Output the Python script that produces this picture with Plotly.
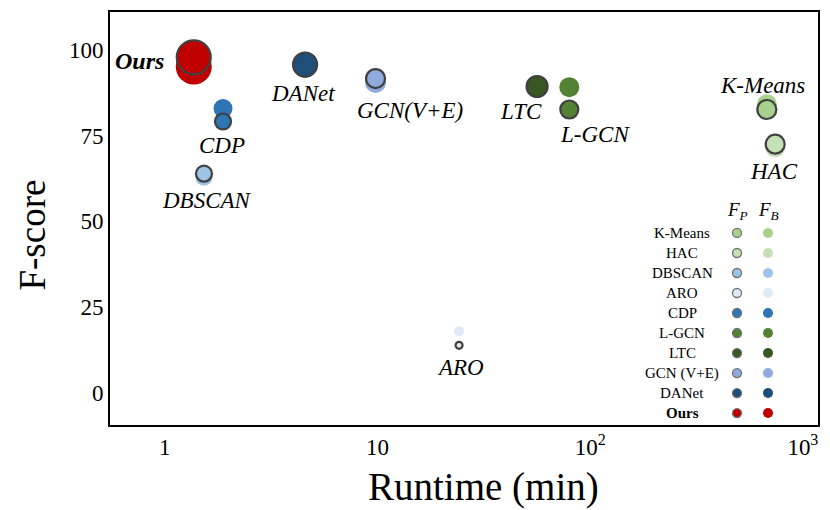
import math
import plotly.graph_objects as go

# ---------------- data ----------------
methods = ["K-Means", "HAC", "DBSCAN", "ARO", "CDP", "L-GCN", "LTC", "GCN (V+E)", "DANet", "Ours"]
plot_labels = ["K-Means", "HAC", "DBSCAN", "ARO", "CDP", "L-GCN", "LTC", "GCN(V+E)", "DANet", "Ours"]
runtime_min = [677, 741, 1.53, 24.2, 1.88, 79.8, 56.3, 9.8, 4.57, 1.37]
f_pairwise = [82.6, 72.5, 63.9, 13.9, 79.1, 82.6, 89.3, 91.6, 95.7, 97.8]
f_bcubed = [84.1, 71.6, 62.9, 18.0, 82.9, 89.1, 89.3, 90.5, 95.5, 95.1]
x_tick_vals = [1, 10, 100, 1000]
x_tick_text = ["1", "10", "10<sup>2</sup>", "10<sup>3</sup>"]
y_tick_vals = [0, 25, 50, 75, 100]

# ---------------- style ----------------
colors = ["#a9d18e", "#c5e0b4", "#9dc3e6", "#deebf7", "#2e75b6",
          "#548235", "#385723", "#8faadc", "#1f4e79", "#c00000"]
size_fb = [20, 20, 17, 10, 19, 20, 22, 21, 25, 36]
size_fp = [19, 19, 16, 7, 16, 18, 21, 19, 24, 34]
# label offsets (px) relative to the F_P point
label_shift = [(-4, 24), (-1, -27), (3, -27), (1, -22), (-1, -24),
               (26, -25), (-16, -25), (34, -32), (-2, -29), (-28, -4)]
FONT = "Liberation Serif"
OUTLINE = "#404040"

fig = go.Figure()

# main scatter: F_B (filled) under F_P (outlined)
for i, m in enumerate(methods):
    fig.add_trace(go.Scatter(
        x=[runtime_min[i]], y=[f_bcubed[i]], mode="markers",
        marker=dict(size=size_fb[i], color=colors[i], line=dict(width=0)),
        showlegend=False, hoverinfo="skip", cliponaxis=False))
for i, m in enumerate(methods):
    fig.add_trace(go.Scatter(
        x=[runtime_min[i]], y=[f_pairwise[i]], mode="markers",
        marker=dict(size=size_fp[i], color=colors[i], line=dict(width=2.2, color=OUTLINE)),
        showlegend=False, hoverinfo="skip", cliponaxis=False))

annotations = []
for i, lab in enumerate(plot_labels):
    dx, dy = label_shift[i]
    xl = math.log10(runtime_min[i])  # annotation coords on a log axis are log10
    if lab == "Ours":
        annotations.append(dict(x=xl, y=f_pairwise[i], xref="x", yref="y",
                                text="<b><i>Ours</i></b>", showarrow=False,
                                xanchor="right", yanchor="middle", xshift=dx, yshift=dy,
                                font=dict(family=FONT, size=24, color="black")))
    else:
        annotations.append(dict(x=xl, y=f_pairwise[i], xref="x", yref="y",
                                text="<i>" + lab + "</i>", showarrow=False,
                                xanchor="center", yanchor="middle", xshift=dx, yshift=dy,
                                font=dict(family=FONT, size=23, color="black")))

# inset legend drawn on its own axes (row index: Ours at bottom)
n = len(methods)
row = [n - 1 - i for i in range(n)]
fig.add_trace(go.Scatter(
    x=[0] * n, y=row, xaxis="x2", yaxis="y2", mode="markers",
    marker=dict(size=9, color=colors, line=dict(width=1.3, color="#707070")),
    showlegend=False, hoverinfo="skip"))
fig.add_trace(go.Scatter(
    x=[1] * n, y=row, xaxis="x2", yaxis="y2", mode="markers",
    marker=dict(size=10, color=colors, line=dict(width=0)),
    showlegend=False, hoverinfo="skip"))
for i, m in enumerate(methods):
    txt = "<b>Ours</b>" if m == "Ours" else m
    annotations.append(dict(x=-1.77, y=row[i], xref="x2", yref="y2", text=txt, showarrow=False,
                            xanchor="center", yanchor="middle",
                            font=dict(family=FONT, size=15, color="black")))
annotations.append(dict(x=0, y=0.518, xref="x2", yref="paper", text="<i>F<sub>P</sub></i>",
                        showarrow=False, xanchor="center", yanchor="middle",
                        font=dict(family=FONT, size=19, color="black")))
annotations.append(dict(x=1, y=0.518, xref="x2", yref="paper", text="<i>F<sub>B</sub></i>",
                        showarrow=False, xanchor="center", yanchor="middle",
                        font=dict(family=FONT, size=19, color="black")))

# axis titles
annotations.append(dict(x=0.527, y=-0.149, xref="paper", yref="paper", text="Runtime (min)",
                        showarrow=False, xanchor="center", yanchor="middle",
                        font=dict(family=FONT, size=39, color="black")))
annotations.append(dict(x=-0.11, y=0.459, xref="paper", yref="paper", text="F-score",
                        showarrow=False, xanchor="center", yanchor="middle", textangle=-90,
                        font=dict(family=FONT, size=37, color="black")))

fig.update_layout(
    width=830, height=510,
    margin=dict(l=110, r=12, t=10, b=85),
    paper_bgcolor="white", plot_bgcolor="white",
    font=dict(family=FONT, color="black"),
    showlegend=False,
    annotations=annotations,
    xaxis=dict(type="log", range=[-0.257, 3.071], tickvals=x_tick_vals, ticktext=x_tick_text,
               showgrid=False, zeroline=False, ticks="", showline=True, mirror=True,
               linecolor="black", linewidth=2, tickfont=dict(family=FONT, size=23, color="black")),
    yaxis=dict(range=[-9.3, 111], tickvals=y_tick_vals, showgrid=False, zeroline=False, ticks="",
               showline=True, mirror=True, linecolor="black", linewidth=2,
               tickfont=dict(family=FONT, size=23, color="black")),
    xaxis2=dict(domain=[0.7486, 0.9534], range=[-3.129, 1.548], anchor="y2", visible=False),
    yaxis2=dict(domain=[0.0048, 0.542], range=[-0.497, 10.59], anchor="x2", visible=False),
)

fig.write_html("out.html", config={"displayModeBar": False},
               post_script="document.body.style.margin='0';document.body.style.overflow='hidden';")
